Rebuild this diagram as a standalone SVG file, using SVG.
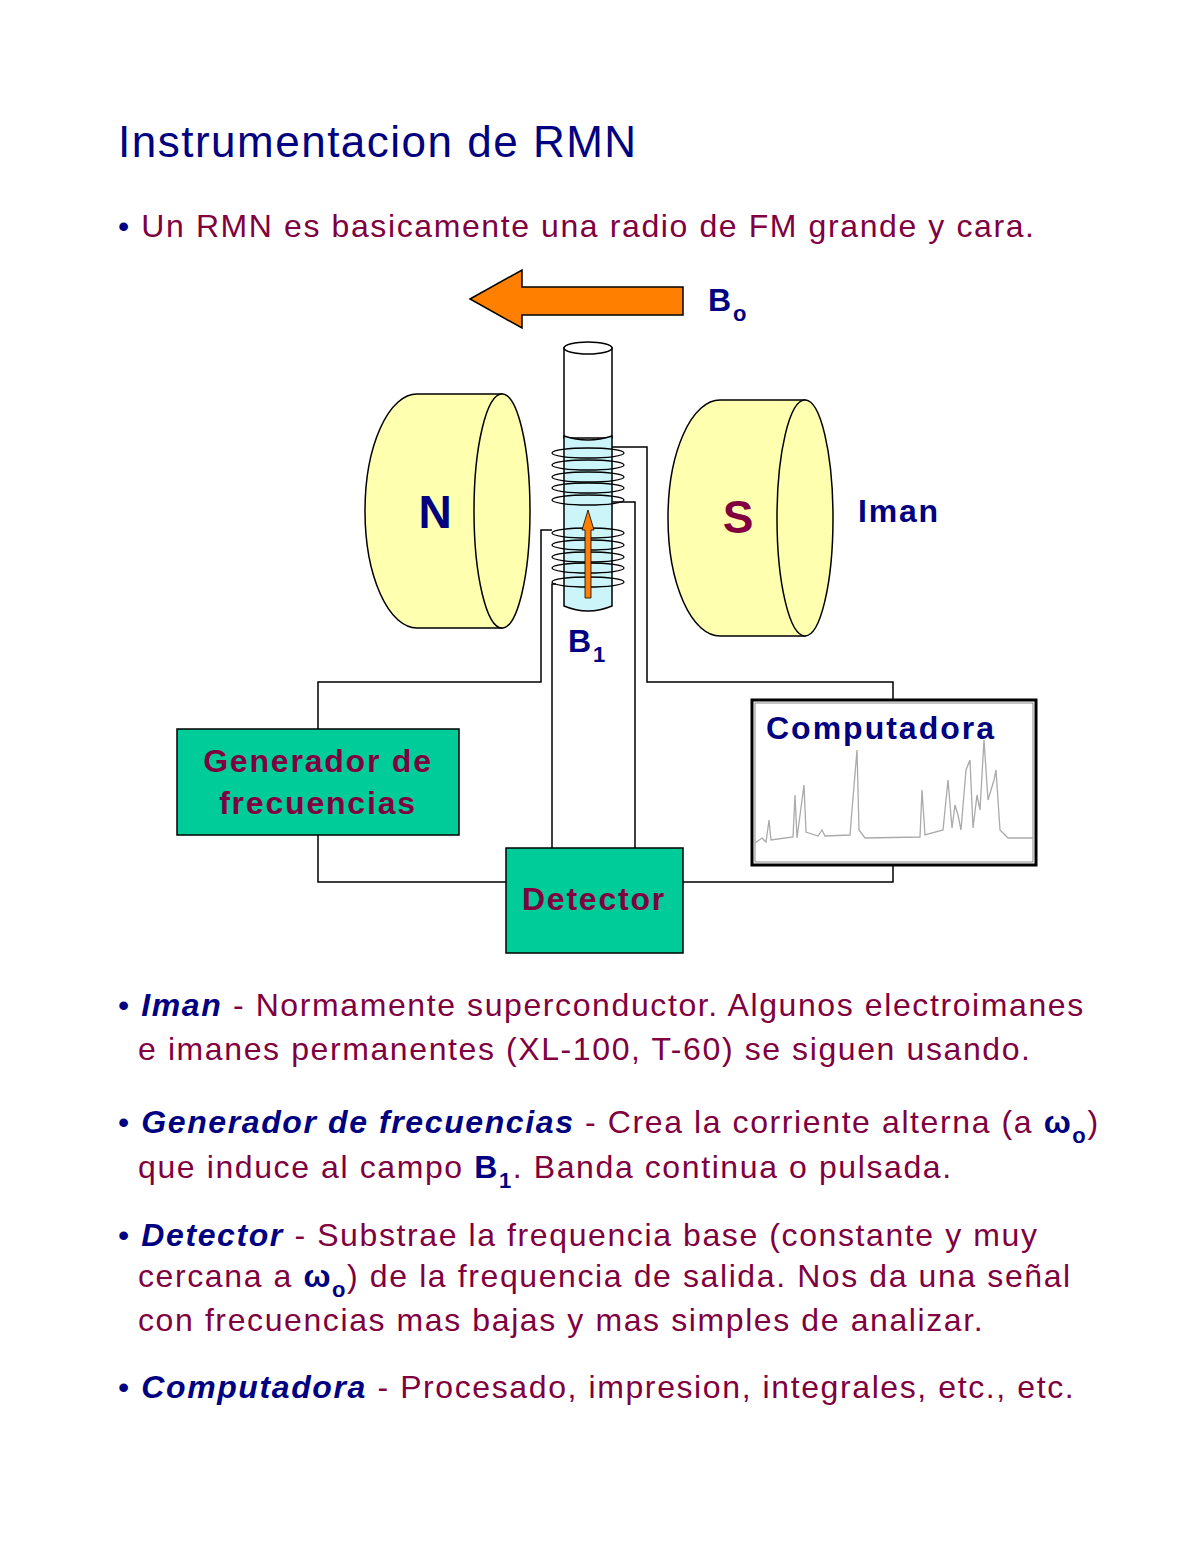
<svg xmlns="http://www.w3.org/2000/svg" width="1200" height="1553" viewBox="0 0 1200 1553">
<style>
text{font-family:"Liberation Sans",Arial,sans-serif;letter-spacing:1.6px}
.lbl{letter-spacing:1.8px}
.b{fill:#000080}.r{fill:#800040}
.w{fill:none;stroke:#000;stroke-width:1.5}
.mag{fill:#ffffb0;stroke:#000;stroke-width:1.5}
.coil{fill:none;stroke:#000;stroke-width:1.3}
.box{fill:#00cc99;stroke:#000;stroke-width:1.5}
</style>
<rect width="1200" height="1553" fill="#fff"/>
<text x="118" y="157" font-size="44" class="b" style="letter-spacing:1.5px">Instrumentacion de RMN</text>
<text x="118" y="237" font-size="32" class="r"><tspan class="b">•</tspan> Un RMN es basicamente una radio de FM grande y cara.</text>
<g id="connectors">
<polyline class="w" points="612,447 647,447 647,682 893,682 893,700"/>
<polyline class="w" points="893,865 893,882 683,882"/>
<polyline class="w" points="612,502 635,502 635,848"/>
<polyline class="w" points="552,530 541,530 541,682 318,682 318,729"/>
<polyline class="w" points="556,584 552,584 552,848"/>
<polyline class="w" points="318,835 318,882 506,882"/>
</g>
<g id="b0">
<polygon points="470,299 522,270 522,287 683,287 683,315 522,315 522,328" fill="#ff8000" stroke="#000" stroke-width="1.5"/>
<text x="708" y="311" font-size="32" font-weight="bold" class="b lbl">B<tspan font-size="22" dy="10">o</tspan></text>
</g>
<g id="magnetN">
<path class="mag" d="M417,394 L502,394 L502,628 L417,628 A52,117 0 0 1 417,394 Z"/>
<ellipse class="mag" cx="502" cy="511" rx="28" ry="117"/>
<text x="435" y="528" font-size="46" font-weight="bold" class="b" text-anchor="middle" style="letter-spacing:0">N</text>
</g>
<g id="magnetS">
<path class="mag" d="M720,400 L805,400 L805,636 L720,636 A52,118 0 0 1 720,400 Z"/>
<ellipse class="mag" cx="805" cy="518" rx="28" ry="118"/>
<text x="738" y="533" font-size="46" font-weight="bold" class="r" text-anchor="middle" style="letter-spacing:0">S</text>
<text x="858" y="522" font-size="32" font-weight="bold" class="b lbl">Iman</text>
</g>
<g id="tube">
<rect x="564" y="348" width="48" height="90" fill="#fff" stroke="#000" stroke-width="1.5"/>
<path d="M564,436 Q588,444 612,436 L612,606 Q588,616 564,606 Z" fill="#ccf5fa" stroke="#000" stroke-width="1.5"/>
<ellipse cx="588" cy="348" rx="24" ry="6" fill="#fff" stroke="#000" stroke-width="1.5"/>
<g class="coil">
<ellipse cx="588" cy="453" rx="36" ry="5"/><ellipse cx="588" cy="465" rx="36" ry="5"/><ellipse cx="588" cy="477" rx="36" ry="5"/><ellipse cx="588" cy="488" rx="36" ry="5"/><ellipse cx="588" cy="500" rx="36" ry="5"/>
<ellipse cx="588" cy="533" rx="36" ry="5"/><ellipse cx="588" cy="545" rx="36" ry="5"/><ellipse cx="588" cy="557" rx="36" ry="5"/><ellipse cx="588" cy="568" rx="36" ry="5"/><ellipse cx="588" cy="582" rx="36" ry="5"/>
</g>
<polygon points="588,510 594,530 591,530 591,598 585,598 585,530 582,530" fill="#ff8000" stroke="#000" stroke-width="0.8"/>
<text x="568" y="652" font-size="32" font-weight="bold" class="b lbl">B<tspan font-size="22" dy="10">1</tspan></text>
</g>
<g id="generador">
<rect class="box" x="177" y="729" width="282" height="106"/>
<text x="318" y="772" font-size="32" font-weight="bold" class="r lbl" text-anchor="middle">Generador de</text>
<text x="318" y="814" font-size="32" font-weight="bold" class="r lbl" text-anchor="middle">frecuencias</text>
</g>
<g id="detector">
<rect class="box" x="506" y="848" width="177" height="105"/>
<text x="594" y="910" font-size="32" font-weight="bold" class="r lbl" text-anchor="middle">Detector</text>
</g>
<g id="computadora">
<rect x="752" y="700" width="284" height="165" fill="#fff" stroke="#000" stroke-width="3"/>
<rect x="755" y="703" width="278" height="159" fill="none" stroke="#888" stroke-width="1"/>
<polyline fill="none" stroke="#aaa" stroke-width="1.3" points="755,843 762,838 766,842 769,820 771,840 793,837 795,795 797,838 804,785 806,832 818,836 822,830 825,836 850,835 852,810 857,750 859,830 865,838 920,837 922,790 925,835 943,830 948,780 952,828 955,805 958,815 961,830 966,770 970,760 973,828 977,795 980,810 984,740 988,800 994,780 996,770 1000,830 1008,838 1033,838"/>
<text x="766" y="739" font-size="32" font-weight="bold" class="b" style="letter-spacing:2px">Computadora</text>
</g>
<g id="texto" font-size="32">
<text x="118" y="1016" class="r"><tspan class="b">• </tspan><tspan class="b" font-weight="bold" font-style="italic">Iman</tspan> - Normamente superconductor. Algunos electroimanes</text>
<text x="138" y="1060" class="r">e imanes permanentes (XL-100, T-60) se siguen usando.</text>
<text x="118" y="1133" class="r"><tspan class="b">• </tspan><tspan class="b" font-weight="bold" font-style="italic">Generador de frecuencias</tspan> - Crea la corriente alterna (a <tspan class="b" font-weight="bold">ω<tspan font-size="22" dy="10">o</tspan></tspan><tspan dy="-10">)</tspan></text>
<text x="138" y="1178" class="r">que induce al campo <tspan class="b" font-weight="bold">B<tspan font-size="22" dy="10">1</tspan></tspan><tspan dy="-10">. Banda continua o pulsada.</tspan></text>
<text x="118" y="1246" class="r"><tspan class="b">• </tspan><tspan class="b" font-weight="bold" font-style="italic">Detector</tspan> - Substrae la frequencia base (constante y muy</text>
<text x="138" y="1287" class="r">cercana a <tspan class="b" font-weight="bold">ω<tspan font-size="22" dy="10">o</tspan></tspan><tspan dy="-10">) de la frequencia de salida. Nos da una señal</tspan></text>
<text x="138" y="1331" class="r">con frecuencias mas bajas y mas simples de analizar.</text>
<text x="118" y="1398" class="r"><tspan class="b">• </tspan><tspan class="b" font-weight="bold" font-style="italic">Computadora</tspan> - Procesado, impresion, integrales, etc., etc.</text>
</g>
</svg>
